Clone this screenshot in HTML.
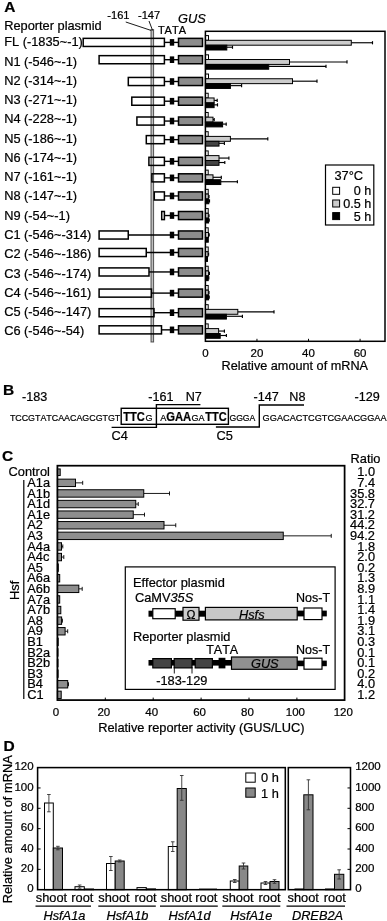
<!DOCTYPE html>
<html><head><meta charset="utf-8"><title>Figure</title>
<style>
html,body{margin:0;padding:0;background:#fff;}
svg{display:block;font-family:"Liberation Sans",sans-serif;fill:#000;}
text{white-space:pre;font-kerning:none;stroke:#000;stroke-width:0.22px;}
</style></head><body>
<svg width="387" height="921" viewBox="0 0 387 921">
<rect x="0" y="0" width="387" height="921" fill="#fff" stroke="none"/>
<text x="4.2" y="12.3" font-size="15.5" font-weight="bold">A</text>
<text x="4.2" y="30" font-size="12.8">Reporter plasmid</text>
<text x="4.2" y="46.3" font-size="12.8">FL (-1835~-1)</text>
<text x="4.2" y="65.57" font-size="12.8">N1 (-546~-1)</text>
<text x="4.2" y="84.84" font-size="12.8">N2 (-314~-1)</text>
<text x="4.2" y="104.11" font-size="12.8">N3 (-271~-1)</text>
<text x="4.2" y="123.38" font-size="12.8">N4 (-228~-1)</text>
<text x="4.2" y="142.65" font-size="12.8">N5 (-186~-1)</text>
<text x="4.2" y="161.92" font-size="12.8">N6 (-174~-1)</text>
<text x="4.2" y="181.19" font-size="12.8">N7 (-161~-1)</text>
<text x="4.2" y="200.46" font-size="12.8">N8 (-147~-1)</text>
<text x="4.2" y="219.73" font-size="12.8">N9 (-54~-1)</text>
<text x="4.2" y="239.0" font-size="12.8">C1 (-546~-314)</text>
<text x="4.2" y="258.27" font-size="12.8">C2 (-546~-186)</text>
<text x="4.2" y="277.54" font-size="12.8">C3 (-546~-174)</text>
<text x="4.2" y="296.81" font-size="12.8">C4 (-546~-161)</text>
<text x="4.2" y="316.08" font-size="12.8">C5 (-546~-147)</text>
<text x="4.2" y="335.35" font-size="12.8">C6 (-546~-54)</text>
<text x="107.3" y="19.2" font-size="11.1">-161</text>
<text x="138.0" y="19.2" font-size="11.1">-147</text>
<text x="157.9" y="34.3" font-size="11">TATA</text>
<text x="178" y="23.4" font-size="12.8" font-style="italic">GUS</text>
<line x1="125.75" y1="22.00" x2="151.30" y2="30.50" stroke="#000" stroke-width="0.9"/>
<line x1="149.00" y1="21.00" x2="152.60" y2="30.50" stroke="#000" stroke-width="0.9"/>
<line x1="164.40" y1="42.40" x2="178.50" y2="42.40" stroke="#000" stroke-width="1.4"/>
<rect x="169.80" y="39.10" width="4.40" height="6.60" fill="#000" stroke="none" stroke-width="0"/>
<rect x="83.20" y="38.35" width="81.20" height="8.10" fill="#fff" stroke="#000" stroke-width="1.5"/>
<rect x="178.50" y="38.35" width="24.00" height="8.10" fill="#8c8c8c" stroke="#000" stroke-width="1.5"/>
<line x1="164.40" y1="59.70" x2="178.50" y2="59.70" stroke="#000" stroke-width="1.4"/>
<rect x="169.80" y="56.40" width="4.40" height="6.60" fill="#000" stroke="none" stroke-width="0"/>
<rect x="99.10" y="55.65" width="65.30" height="8.10" fill="#fff" stroke="#000" stroke-width="1.5"/>
<rect x="178.50" y="55.65" width="24.00" height="8.10" fill="#8c8c8c" stroke="#000" stroke-width="1.5"/>
<line x1="164.40" y1="81.50" x2="178.50" y2="81.50" stroke="#000" stroke-width="1.4"/>
<rect x="169.80" y="78.20" width="4.40" height="6.60" fill="#000" stroke="none" stroke-width="0"/>
<rect x="128.30" y="77.45" width="36.10" height="8.10" fill="#fff" stroke="#000" stroke-width="1.5"/>
<rect x="178.50" y="77.45" width="24.00" height="8.10" fill="#8c8c8c" stroke="#000" stroke-width="1.5"/>
<line x1="164.40" y1="101.20" x2="178.50" y2="101.20" stroke="#000" stroke-width="1.4"/>
<rect x="169.80" y="97.90" width="4.40" height="6.60" fill="#000" stroke="none" stroke-width="0"/>
<rect x="131.80" y="97.15" width="32.60" height="8.10" fill="#fff" stroke="#000" stroke-width="1.5"/>
<rect x="178.50" y="97.15" width="24.00" height="8.10" fill="#8c8c8c" stroke="#000" stroke-width="1.5"/>
<line x1="164.40" y1="121.05" x2="178.50" y2="121.05" stroke="#000" stroke-width="1.4"/>
<rect x="169.80" y="117.75" width="4.40" height="6.60" fill="#000" stroke="none" stroke-width="0"/>
<rect x="136.90" y="117.00" width="27.50" height="8.10" fill="#fff" stroke="#000" stroke-width="1.5"/>
<rect x="178.50" y="117.00" width="24.00" height="8.10" fill="#8c8c8c" stroke="#000" stroke-width="1.5"/>
<line x1="164.40" y1="139.65" x2="178.50" y2="139.65" stroke="#000" stroke-width="1.4"/>
<rect x="169.80" y="136.35" width="4.40" height="6.60" fill="#000" stroke="none" stroke-width="0"/>
<rect x="146.30" y="135.60" width="18.10" height="8.10" fill="#fff" stroke="#000" stroke-width="1.5"/>
<rect x="178.50" y="135.60" width="24.00" height="8.10" fill="#8c8c8c" stroke="#000" stroke-width="1.5"/>
<line x1="164.40" y1="161.35" x2="178.50" y2="161.35" stroke="#000" stroke-width="1.4"/>
<rect x="169.80" y="158.05" width="4.40" height="6.60" fill="#000" stroke="none" stroke-width="0"/>
<rect x="148.90" y="157.30" width="15.50" height="8.10" fill="#fff" stroke="#000" stroke-width="1.5"/>
<rect x="178.50" y="157.30" width="24.00" height="8.10" fill="#8c8c8c" stroke="#000" stroke-width="1.5"/>
<line x1="164.40" y1="177.85" x2="178.50" y2="177.85" stroke="#000" stroke-width="1.4"/>
<rect x="169.80" y="174.55" width="4.40" height="6.60" fill="#000" stroke="none" stroke-width="0"/>
<rect x="151.90" y="173.80" width="12.50" height="8.10" fill="#fff" stroke="#000" stroke-width="1.5"/>
<rect x="178.50" y="173.80" width="24.00" height="8.10" fill="#8c8c8c" stroke="#000" stroke-width="1.5"/>
<line x1="164.40" y1="195.95" x2="178.50" y2="195.95" stroke="#000" stroke-width="1.4"/>
<rect x="169.80" y="192.65" width="4.40" height="6.60" fill="#000" stroke="none" stroke-width="0"/>
<rect x="154.30" y="191.90" width="10.10" height="8.10" fill="#fff" stroke="#000" stroke-width="1.5"/>
<rect x="178.50" y="191.90" width="24.00" height="8.10" fill="#8c8c8c" stroke="#000" stroke-width="1.5"/>
<line x1="164.40" y1="215.55" x2="178.50" y2="215.55" stroke="#000" stroke-width="1.4"/>
<rect x="169.80" y="212.25" width="4.40" height="6.60" fill="#000" stroke="none" stroke-width="0"/>
<rect x="161.70" y="211.50" width="2.70" height="8.10" fill="#fff" stroke="#000" stroke-width="1.5"/>
<rect x="178.50" y="211.50" width="24.00" height="8.10" fill="#8c8c8c" stroke="#000" stroke-width="1.5"/>
<line x1="128.25" y1="235.00" x2="178.50" y2="235.00" stroke="#000" stroke-width="1.4"/>
<rect x="169.80" y="231.70" width="4.40" height="6.60" fill="#000" stroke="none" stroke-width="0"/>
<rect x="99.10" y="230.95" width="29.15" height="8.10" fill="#fff" stroke="#000" stroke-width="1.5"/>
<rect x="178.50" y="230.95" width="24.00" height="8.10" fill="#8c8c8c" stroke="#000" stroke-width="1.5"/>
<line x1="146.25" y1="252.50" x2="178.50" y2="252.50" stroke="#000" stroke-width="1.4"/>
<rect x="169.80" y="249.20" width="4.40" height="6.60" fill="#000" stroke="none" stroke-width="0"/>
<rect x="99.10" y="248.45" width="47.15" height="8.10" fill="#fff" stroke="#000" stroke-width="1.5"/>
<rect x="178.50" y="248.45" width="24.00" height="8.10" fill="#8c8c8c" stroke="#000" stroke-width="1.5"/>
<line x1="149.00" y1="271.95" x2="178.50" y2="271.95" stroke="#000" stroke-width="1.4"/>
<rect x="169.80" y="268.65" width="4.40" height="6.60" fill="#000" stroke="none" stroke-width="0"/>
<rect x="99.10" y="267.90" width="49.90" height="8.10" fill="#fff" stroke="#000" stroke-width="1.5"/>
<rect x="178.50" y="267.90" width="24.00" height="8.10" fill="#8c8c8c" stroke="#000" stroke-width="1.5"/>
<line x1="151.50" y1="293.10" x2="178.50" y2="293.10" stroke="#000" stroke-width="1.4"/>
<rect x="169.80" y="289.80" width="4.40" height="6.60" fill="#000" stroke="none" stroke-width="0"/>
<rect x="99.10" y="289.05" width="52.40" height="8.10" fill="#fff" stroke="#000" stroke-width="1.5"/>
<rect x="178.50" y="289.05" width="24.00" height="8.10" fill="#8c8c8c" stroke="#000" stroke-width="1.5"/>
<line x1="154.00" y1="312.70" x2="178.50" y2="312.70" stroke="#000" stroke-width="1.4"/>
<rect x="169.80" y="309.40" width="4.40" height="6.60" fill="#000" stroke="none" stroke-width="0"/>
<rect x="99.10" y="308.65" width="54.90" height="8.10" fill="#fff" stroke="#000" stroke-width="1.5"/>
<rect x="178.50" y="308.65" width="24.00" height="8.10" fill="#8c8c8c" stroke="#000" stroke-width="1.5"/>
<line x1="161.50" y1="329.85" x2="178.50" y2="329.85" stroke="#000" stroke-width="1.4"/>
<rect x="169.80" y="326.55" width="4.40" height="6.60" fill="#000" stroke="none" stroke-width="0"/>
<rect x="99.10" y="325.80" width="62.40" height="8.10" fill="#fff" stroke="#000" stroke-width="1.5"/>
<rect x="178.50" y="325.80" width="24.00" height="8.10" fill="#8c8c8c" stroke="#000" stroke-width="1.5"/>
<rect x="151.00" y="29.60" width="2.60" height="312.40" fill="#000" stroke="#000" stroke-width="1.0" fill-opacity="0.25" stroke-opacity="0.64"/>
<line x1="351.30" y1="42.75" x2="372.50" y2="42.75" stroke="#000" stroke-width="1.15"/>
<line x1="372.50" y1="41.15" x2="372.50" y2="44.35" stroke="#000" stroke-width="1.15"/>
<line x1="226.80" y1="47.20" x2="232.50" y2="47.20" stroke="#000" stroke-width="1.15"/>
<line x1="232.50" y1="45.60" x2="232.50" y2="48.80" stroke="#000" stroke-width="1.15"/>
<rect x="205.40" y="35.60" width="3.10" height="4.70" fill="#fff" stroke="#000" stroke-width="1.0"/>
<rect x="205.40" y="40.30" width="145.90" height="4.90" fill="#ccc" stroke="#000" stroke-width="1.0"/>
<rect x="205.40" y="45.20" width="21.40" height="4.80" fill="#000" stroke="#000" stroke-width="1.0"/>
<line x1="289.50" y1="61.97" x2="347.00" y2="61.97" stroke="#000" stroke-width="1.15"/>
<line x1="347.00" y1="60.37" x2="347.00" y2="63.57" stroke="#000" stroke-width="1.15"/>
<line x1="268.70" y1="66.42" x2="326.00" y2="66.42" stroke="#000" stroke-width="1.15"/>
<line x1="326.00" y1="64.82" x2="326.00" y2="68.02" stroke="#000" stroke-width="1.15"/>
<rect x="205.40" y="54.82" width="3.10" height="4.70" fill="#fff" stroke="#000" stroke-width="1.0"/>
<rect x="205.40" y="59.52" width="84.10" height="4.90" fill="#ccc" stroke="#000" stroke-width="1.0"/>
<rect x="205.40" y="64.42" width="63.30" height="4.80" fill="#000" stroke="#000" stroke-width="1.0"/>
<line x1="292.50" y1="81.19" x2="317.00" y2="81.19" stroke="#000" stroke-width="1.15"/>
<line x1="317.00" y1="79.59" x2="317.00" y2="82.79" stroke="#000" stroke-width="1.15"/>
<line x1="230.40" y1="85.64" x2="241.60" y2="85.64" stroke="#000" stroke-width="1.15"/>
<line x1="241.60" y1="84.04" x2="241.60" y2="87.24" stroke="#000" stroke-width="1.15"/>
<rect x="205.40" y="74.04" width="3.10" height="4.70" fill="#fff" stroke="#000" stroke-width="1.0"/>
<rect x="205.40" y="78.74" width="87.10" height="4.90" fill="#ccc" stroke="#000" stroke-width="1.0"/>
<rect x="205.40" y="83.64" width="25.00" height="4.80" fill="#000" stroke="#000" stroke-width="1.0"/>
<line x1="214.10" y1="100.41" x2="217.20" y2="100.41" stroke="#000" stroke-width="1.15"/>
<line x1="217.20" y1="98.81" x2="217.20" y2="102.01" stroke="#000" stroke-width="1.15"/>
<line x1="214.10" y1="104.86" x2="217.50" y2="104.86" stroke="#000" stroke-width="1.15"/>
<line x1="217.50" y1="103.26" x2="217.50" y2="106.46" stroke="#000" stroke-width="1.15"/>
<rect x="205.40" y="93.26" width="2.80" height="4.70" fill="#fff" stroke="#000" stroke-width="1.0"/>
<rect x="205.40" y="97.96" width="8.70" height="4.90" fill="#ccc" stroke="#000" stroke-width="1.0"/>
<rect x="205.40" y="102.86" width="8.70" height="4.80" fill="#000" stroke="#000" stroke-width="1.0"/>
<line x1="213.00" y1="119.63" x2="214.20" y2="119.63" stroke="#000" stroke-width="1.15"/>
<line x1="214.20" y1="118.03" x2="214.20" y2="121.23" stroke="#000" stroke-width="1.15"/>
<line x1="222.60" y1="124.08" x2="226.20" y2="124.08" stroke="#000" stroke-width="1.15"/>
<line x1="226.20" y1="122.48" x2="226.20" y2="125.68" stroke="#000" stroke-width="1.15"/>
<rect x="205.40" y="112.48" width="2.80" height="4.70" fill="#fff" stroke="#000" stroke-width="1.0"/>
<rect x="205.40" y="117.18" width="7.60" height="4.90" fill="#ccc" stroke="#000" stroke-width="1.0"/>
<rect x="205.40" y="122.08" width="17.20" height="4.80" fill="#000" stroke="#000" stroke-width="1.0"/>
<line x1="230.40" y1="138.85" x2="267.80" y2="138.85" stroke="#000" stroke-width="1.15"/>
<line x1="267.80" y1="137.25" x2="267.80" y2="140.45" stroke="#000" stroke-width="1.15"/>
<line x1="219.00" y1="143.30" x2="224.40" y2="143.30" stroke="#000" stroke-width="1.15"/>
<line x1="224.40" y1="141.70" x2="224.40" y2="144.90" stroke="#000" stroke-width="1.15"/>
<rect x="205.40" y="131.70" width="2.80" height="4.70" fill="#fff" stroke="#000" stroke-width="1.0"/>
<rect x="205.40" y="136.40" width="25.00" height="4.90" fill="#ccc" stroke="#000" stroke-width="1.0"/>
<rect x="205.40" y="141.30" width="13.60" height="4.80" fill="#444" stroke="#000" stroke-width="1.0"/>
<line x1="219.00" y1="158.07" x2="228.90" y2="158.07" stroke="#000" stroke-width="1.15"/>
<line x1="228.90" y1="156.47" x2="228.90" y2="159.67" stroke="#000" stroke-width="1.15"/>
<line x1="219.00" y1="162.52" x2="224.80" y2="162.52" stroke="#000" stroke-width="1.15"/>
<line x1="224.80" y1="160.92" x2="224.80" y2="164.12" stroke="#000" stroke-width="1.15"/>
<rect x="205.40" y="150.92" width="2.80" height="4.70" fill="#fff" stroke="#000" stroke-width="1.0"/>
<rect x="205.40" y="155.62" width="13.60" height="4.90" fill="#ccc" stroke="#000" stroke-width="1.0"/>
<rect x="205.40" y="160.52" width="13.60" height="4.80" fill="#444" stroke="#000" stroke-width="1.0"/>
<line x1="213.00" y1="177.29" x2="221.30" y2="177.29" stroke="#000" stroke-width="1.15"/>
<line x1="221.30" y1="175.69" x2="221.30" y2="178.89" stroke="#000" stroke-width="1.15"/>
<line x1="220.80" y1="181.74" x2="237.40" y2="181.74" stroke="#000" stroke-width="1.15"/>
<line x1="237.40" y1="180.14" x2="237.40" y2="183.34" stroke="#000" stroke-width="1.15"/>
<rect x="205.40" y="170.14" width="2.80" height="4.70" fill="#fff" stroke="#000" stroke-width="1.0"/>
<rect x="205.40" y="174.84" width="7.60" height="4.90" fill="#ccc" stroke="#000" stroke-width="1.0"/>
<rect x="205.40" y="179.74" width="15.40" height="4.80" fill="#000" stroke="#000" stroke-width="1.0"/>
<line x1="208.30" y1="196.51" x2="209.00" y2="196.51" stroke="#000" stroke-width="1.15"/>
<line x1="209.00" y1="194.91" x2="209.00" y2="198.11" stroke="#000" stroke-width="1.15"/>
<line x1="208.80" y1="200.96" x2="209.50" y2="200.96" stroke="#000" stroke-width="1.15"/>
<line x1="209.50" y1="199.36" x2="209.50" y2="202.56" stroke="#000" stroke-width="1.15"/>
<rect x="205.40" y="189.36" width="2.80" height="4.70" fill="#fff" stroke="#000" stroke-width="1.0"/>
<rect x="205.40" y="194.06" width="2.90" height="4.90" fill="#ccc" stroke="#000" stroke-width="1.0"/>
<rect x="205.40" y="198.96" width="3.40" height="4.80" fill="#000" stroke="#000" stroke-width="1.0"/>
<line x1="208.30" y1="215.73" x2="209.00" y2="215.73" stroke="#000" stroke-width="1.15"/>
<line x1="209.00" y1="214.13" x2="209.00" y2="217.33" stroke="#000" stroke-width="1.15"/>
<line x1="208.60" y1="220.18" x2="209.20" y2="220.18" stroke="#000" stroke-width="1.15"/>
<line x1="209.20" y1="218.58" x2="209.20" y2="221.78" stroke="#000" stroke-width="1.15"/>
<rect x="205.40" y="208.58" width="2.80" height="4.70" fill="#fff" stroke="#000" stroke-width="1.0"/>
<rect x="205.40" y="213.28" width="2.90" height="4.90" fill="#ccc" stroke="#000" stroke-width="1.0"/>
<rect x="205.40" y="218.18" width="3.20" height="4.80" fill="#000" stroke="#000" stroke-width="1.0"/>
<line x1="208.50" y1="234.95" x2="209.20" y2="234.95" stroke="#000" stroke-width="1.15"/>
<line x1="209.20" y1="233.35" x2="209.20" y2="236.55" stroke="#000" stroke-width="1.15"/>
<rect x="205.40" y="227.80" width="2.80" height="4.70" fill="#fff" stroke="#000" stroke-width="1.0"/>
<rect x="205.40" y="232.50" width="3.10" height="4.90" fill="#ccc" stroke="#000" stroke-width="1.0"/>
<rect x="205.40" y="237.40" width="2.90" height="4.80" fill="#000" stroke="#000" stroke-width="1.0"/>
<line x1="208.00" y1="254.17" x2="208.60" y2="254.17" stroke="#000" stroke-width="1.15"/>
<line x1="208.60" y1="252.57" x2="208.60" y2="255.77" stroke="#000" stroke-width="1.15"/>
<rect x="205.40" y="247.02" width="2.80" height="4.70" fill="#fff" stroke="#000" stroke-width="1.0"/>
<rect x="205.40" y="251.72" width="2.60" height="4.90" fill="#ccc" stroke="#000" stroke-width="1.0"/>
<rect x="205.40" y="256.62" width="2.10" height="4.80" fill="#000" stroke="#000" stroke-width="1.0"/>
<line x1="208.60" y1="273.39" x2="209.40" y2="273.39" stroke="#000" stroke-width="1.15"/>
<line x1="209.40" y1="271.79" x2="209.40" y2="274.99" stroke="#000" stroke-width="1.15"/>
<line x1="208.20" y1="277.84" x2="208.80" y2="277.84" stroke="#000" stroke-width="1.15"/>
<line x1="208.80" y1="276.24" x2="208.80" y2="279.44" stroke="#000" stroke-width="1.15"/>
<rect x="205.40" y="266.24" width="2.80" height="4.70" fill="#fff" stroke="#000" stroke-width="1.0"/>
<rect x="205.40" y="270.94" width="3.20" height="4.90" fill="#ccc" stroke="#000" stroke-width="1.0"/>
<rect x="205.40" y="275.84" width="2.80" height="4.80" fill="#000" stroke="#000" stroke-width="1.0"/>
<line x1="208.30" y1="292.61" x2="209.00" y2="292.61" stroke="#000" stroke-width="1.15"/>
<line x1="209.00" y1="291.01" x2="209.00" y2="294.21" stroke="#000" stroke-width="1.15"/>
<line x1="208.60" y1="297.06" x2="209.20" y2="297.06" stroke="#000" stroke-width="1.15"/>
<line x1="209.20" y1="295.46" x2="209.20" y2="298.66" stroke="#000" stroke-width="1.15"/>
<rect x="205.40" y="285.46" width="2.80" height="4.70" fill="#fff" stroke="#000" stroke-width="1.0"/>
<rect x="205.40" y="290.16" width="2.90" height="4.90" fill="#ccc" stroke="#000" stroke-width="1.0"/>
<rect x="205.40" y="295.06" width="3.20" height="4.80" fill="#000" stroke="#000" stroke-width="1.0"/>
<line x1="237.80" y1="311.83" x2="274.00" y2="311.83" stroke="#000" stroke-width="1.15"/>
<line x1="274.00" y1="310.23" x2="274.00" y2="313.43" stroke="#000" stroke-width="1.15"/>
<line x1="226.40" y1="316.28" x2="242.40" y2="316.28" stroke="#000" stroke-width="1.15"/>
<line x1="242.40" y1="314.68" x2="242.40" y2="317.88" stroke="#000" stroke-width="1.15"/>
<rect x="205.40" y="304.68" width="2.80" height="4.70" fill="#fff" stroke="#000" stroke-width="1.0"/>
<rect x="205.40" y="309.38" width="32.40" height="4.90" fill="#ccc" stroke="#000" stroke-width="1.0"/>
<rect x="205.40" y="314.28" width="21.00" height="4.80" fill="#000" stroke="#000" stroke-width="1.0"/>
<line x1="218.60" y1="331.05" x2="224.40" y2="331.05" stroke="#000" stroke-width="1.15"/>
<line x1="224.40" y1="329.45" x2="224.40" y2="332.65" stroke="#000" stroke-width="1.15"/>
<line x1="220.20" y1="335.50" x2="226.40" y2="335.50" stroke="#000" stroke-width="1.15"/>
<line x1="226.40" y1="333.90" x2="226.40" y2="337.10" stroke="#000" stroke-width="1.15"/>
<rect x="205.40" y="323.90" width="2.80" height="4.70" fill="#fff" stroke="#000" stroke-width="1.0"/>
<rect x="205.40" y="328.60" width="13.20" height="4.90" fill="#ccc" stroke="#000" stroke-width="1.0"/>
<rect x="205.40" y="333.50" width="14.80" height="4.80" fill="#000" stroke="#000" stroke-width="1.0"/>
<rect x="205.40" y="31.30" width="179.60" height="310.00" fill="none" stroke="#000" stroke-width="1.5"/>
<line x1="256.96" y1="341.30" x2="256.96" y2="338.80" stroke="#000" stroke-width="1.0"/>
<line x1="308.52" y1="341.30" x2="308.52" y2="338.80" stroke="#000" stroke-width="1.0"/>
<line x1="360.08" y1="341.30" x2="360.08" y2="338.80" stroke="#000" stroke-width="1.0"/>
<text x="205.4" y="356.7" font-size="11.5" text-anchor="middle">0</text>
<text x="256.96" y="356.7" font-size="11.5" text-anchor="middle">20</text>
<text x="308.52" y="356.7" font-size="11.5" text-anchor="middle">40</text>
<text x="360.08" y="356.7" font-size="11.5" text-anchor="middle">60</text>
<text x="221.5" y="370" font-size="12.8" textLength="146.5" lengthAdjust="spacingAndGlyphs">Relative amount of mRNA</text>
<rect x="325.50" y="165.00" width="48.30" height="60.00" fill="#fff" stroke="#000" stroke-width="1.2"/>
<text x="348.8" y="179.5" font-size="12.8" text-anchor="middle">37°C</text>
<rect x="332.70" y="187.30" width="6.90" height="7.00" fill="#fff" stroke="#000" stroke-width="1.0"/>
<text x="371.3" y="194.8" font-size="12.6" text-anchor="end">0 h</text>
<rect x="332.70" y="200.00" width="6.90" height="7.00" fill="#ccc" stroke="#000" stroke-width="1.0"/>
<text x="371.3" y="208.4" font-size="12.6" text-anchor="end">0.5 h</text>
<rect x="332.70" y="212.60" width="6.90" height="7.00" fill="#000" stroke="#000" stroke-width="1.0"/>
<text x="371.3" y="220.6" font-size="12.6" text-anchor="end">5 h</text>
<text x="3" y="395" font-size="15.5" font-weight="bold">B</text>
<text x="22" y="401.2" font-size="12.6">-183</text>
<text x="148.3" y="401.2" font-size="12.6">-161</text>
<text x="185.7" y="401.2" font-size="12.6">N7</text>
<text x="253.6" y="401.2" font-size="12.6">-147</text>
<text x="289.3" y="401.2" font-size="12.6">N8</text>
<text x="354.5" y="401.2" font-size="12.6">-129</text>
<text x="9.9" y="420.7" font-size="9.9" textLength="110.4" lengthAdjust="spacingAndGlyphs">TCCGTATCAACAGCGTGT</text>
<text x="123.2" y="420.7" font-size="12.5" font-weight="bold" textLength="21.6" lengthAdjust="spacingAndGlyphs">TTC</text>
<text x="145.6" y="420.7" font-size="9.9" textLength="7.0" lengthAdjust="spacingAndGlyphs">G</text>
<text x="160.2" y="420.7" font-size="9.9" textLength="6.1" lengthAdjust="spacingAndGlyphs">A</text>
<text x="166.2" y="420.7" font-size="12.5" font-weight="bold" textLength="25.0" lengthAdjust="spacingAndGlyphs">GAA</text>
<text x="191.6" y="420.7" font-size="9.9" textLength="13.0" lengthAdjust="spacingAndGlyphs">GA</text>
<text x="205.2" y="420.7" font-size="12.5" font-weight="bold" textLength="21.4" lengthAdjust="spacingAndGlyphs">TTC</text>
<text x="229.4" y="420.7" font-size="9.9" textLength="26.0" lengthAdjust="spacingAndGlyphs">GGGA</text>
<text x="262.6" y="420.7" font-size="9.9" textLength="124.0" lengthAdjust="spacingAndGlyphs">GGACACTCGTCGAACGGAA</text>
<rect x="121.20" y="408.30" width="107.20" height="16.00" fill="none" stroke="#000" stroke-width="1.4"/>
<polyline points="111.60,427.40 156.40,427.40 156.40,404.60 200.40,404.60" fill="none" stroke="#000" stroke-width="1.4"/>
<polyline points="215.90,427.00 259.30,427.00 259.30,405.00 304.00,405.00" fill="none" stroke="#000" stroke-width="1.4"/>
<text x="111.5" y="439.6" font-size="12.8">C4</text>
<text x="216.6" y="439.6" font-size="12.8">C5</text>
<text x="2" y="461" font-size="15.5" font-weight="bold">C</text>
<rect x="57.40" y="468.95" width="2.80" height="6.60" fill="#8e8e8e" stroke="#000" stroke-width="1.0"/>
<text x="8.6" y="476.35" font-size="12.8">Control</text>
<text x="375" y="476.35" font-size="12.8" text-anchor="end">1.0</text>
<line x1="75.50" y1="482.85" x2="82.70" y2="482.85" stroke="#000" stroke-width="0.9"/>
<line x1="82.70" y1="480.85" x2="82.70" y2="484.85" stroke="#000" stroke-width="0.9"/>
<rect x="57.40" y="479.15" width="18.10" height="7.40" fill="#8e8e8e" stroke="#000" stroke-width="1.0"/>
<text x="27.3" y="486.95" font-size="12.8">A1a</text>
<text x="375" y="486.95" font-size="12.8" text-anchor="end">7.4</text>
<line x1="143.75" y1="493.45" x2="169.50" y2="493.45" stroke="#000" stroke-width="0.9"/>
<line x1="169.50" y1="491.45" x2="169.50" y2="495.45" stroke="#000" stroke-width="0.9"/>
<rect x="57.40" y="489.75" width="86.35" height="7.40" fill="#8e8e8e" stroke="#000" stroke-width="1.0"/>
<text x="27.3" y="497.55" font-size="12.8">A1b</text>
<text x="375" y="497.55" font-size="12.8" text-anchor="end">35.8</text>
<line x1="135.75" y1="504.05" x2="138.25" y2="504.05" stroke="#000" stroke-width="0.9"/>
<line x1="138.25" y1="502.05" x2="138.25" y2="506.05" stroke="#000" stroke-width="0.9"/>
<rect x="57.40" y="500.35" width="78.35" height="7.40" fill="#8e8e8e" stroke="#000" stroke-width="1.0"/>
<text x="27.3" y="508.15" font-size="12.8">A1d</text>
<text x="375" y="508.15" font-size="12.8" text-anchor="end">32.7</text>
<line x1="133.25" y1="514.65" x2="144.50" y2="514.65" stroke="#000" stroke-width="0.9"/>
<line x1="144.50" y1="512.65" x2="144.50" y2="516.65" stroke="#000" stroke-width="0.9"/>
<rect x="57.40" y="510.95" width="75.85" height="7.40" fill="#8e8e8e" stroke="#000" stroke-width="1.0"/>
<text x="27.3" y="518.75" font-size="12.8">A1e</text>
<text x="375" y="518.75" font-size="12.8" text-anchor="end">31.2</text>
<line x1="164.00" y1="525.25" x2="175.75" y2="525.25" stroke="#000" stroke-width="0.9"/>
<line x1="175.75" y1="523.25" x2="175.75" y2="527.25" stroke="#000" stroke-width="0.9"/>
<rect x="57.40" y="521.55" width="106.60" height="7.40" fill="#8e8e8e" stroke="#000" stroke-width="1.0"/>
<text x="27.3" y="529.35" font-size="12.8">A2</text>
<text x="375" y="529.35" font-size="12.8" text-anchor="end">44.2</text>
<line x1="283.25" y1="535.85" x2="331.25" y2="535.85" stroke="#000" stroke-width="0.9"/>
<line x1="331.25" y1="533.85" x2="331.25" y2="537.85" stroke="#000" stroke-width="0.9"/>
<rect x="57.40" y="532.15" width="225.85" height="7.40" fill="#8e8e8e" stroke="#000" stroke-width="1.0"/>
<text x="27.3" y="539.95" font-size="12.8">A3</text>
<text x="375" y="539.95" font-size="12.8" text-anchor="end">94.2</text>
<line x1="61.50" y1="546.45" x2="62.80" y2="546.45" stroke="#000" stroke-width="0.9"/>
<line x1="62.80" y1="544.45" x2="62.80" y2="548.45" stroke="#000" stroke-width="0.9"/>
<rect x="57.40" y="542.75" width="4.10" height="7.40" fill="#8e8e8e" stroke="#000" stroke-width="1.0"/>
<text x="27.3" y="550.55" font-size="12.8">A4a</text>
<text x="375" y="550.55" font-size="12.8" text-anchor="end">1.8</text>
<line x1="61.50" y1="557.05" x2="63.80" y2="557.05" stroke="#000" stroke-width="0.9"/>
<line x1="63.80" y1="555.05" x2="63.80" y2="559.05" stroke="#000" stroke-width="0.9"/>
<rect x="57.40" y="553.35" width="4.10" height="7.40" fill="#8e8e8e" stroke="#000" stroke-width="1.0"/>
<text x="27.3" y="561.15" font-size="12.8">A4c</text>
<text x="375" y="561.15" font-size="12.8" text-anchor="end">2.0</text>
<rect x="57.40" y="563.95" width="0.90" height="7.40" fill="#8e8e8e" stroke="#000" stroke-width="1.0"/>
<text x="27.3" y="571.75" font-size="12.8">A5</text>
<text x="375" y="571.75" font-size="12.8" text-anchor="end">0.2</text>
<rect x="57.40" y="574.55" width="2.30" height="7.40" fill="#8e8e8e" stroke="#000" stroke-width="1.0"/>
<text x="27.3" y="582.35" font-size="12.8">A6a</text>
<text x="375" y="582.35" font-size="12.8" text-anchor="end">1.3</text>
<line x1="78.80" y1="588.85" x2="82.20" y2="588.85" stroke="#000" stroke-width="0.9"/>
<line x1="82.20" y1="586.85" x2="82.20" y2="590.85" stroke="#000" stroke-width="0.9"/>
<rect x="57.40" y="585.15" width="21.40" height="7.40" fill="#8e8e8e" stroke="#000" stroke-width="1.0"/>
<text x="27.3" y="592.95" font-size="12.8">A6b</text>
<text x="375" y="592.95" font-size="12.8" text-anchor="end">8.9</text>
<rect x="57.40" y="595.75" width="2.30" height="7.40" fill="#8e8e8e" stroke="#000" stroke-width="1.0"/>
<text x="27.3" y="603.55" font-size="12.8">A7a</text>
<text x="375" y="603.55" font-size="12.8" text-anchor="end">1.1</text>
<rect x="57.40" y="606.35" width="3.40" height="7.40" fill="#8e8e8e" stroke="#000" stroke-width="1.0"/>
<text x="27.3" y="614.15" font-size="12.8">A7b</text>
<text x="375" y="614.15" font-size="12.8" text-anchor="end">1.4</text>
<line x1="61.60" y1="620.65" x2="62.40" y2="620.65" stroke="#000" stroke-width="0.9"/>
<line x1="62.40" y1="618.65" x2="62.40" y2="622.65" stroke="#000" stroke-width="0.9"/>
<rect x="57.40" y="616.95" width="4.20" height="7.40" fill="#8e8e8e" stroke="#000" stroke-width="1.0"/>
<text x="27.3" y="624.75" font-size="12.8">A8</text>
<text x="375" y="624.75" font-size="12.8" text-anchor="end">1.9</text>
<line x1="65.10" y1="631.25" x2="67.70" y2="631.25" stroke="#000" stroke-width="0.9"/>
<line x1="67.70" y1="629.25" x2="67.70" y2="633.25" stroke="#000" stroke-width="0.9"/>
<rect x="57.40" y="627.55" width="7.70" height="7.40" fill="#8e8e8e" stroke="#000" stroke-width="1.0"/>
<text x="27.3" y="635.35" font-size="12.8">A9</text>
<text x="375" y="635.35" font-size="12.8" text-anchor="end">3.1</text>
<rect x="57.40" y="638.15" width="0.80" height="7.40" fill="#8e8e8e" stroke="#000" stroke-width="1.0"/>
<text x="27.3" y="645.95" font-size="12.8">B1</text>
<text x="375" y="645.95" font-size="12.8" text-anchor="end">0.3</text>
<rect x="57.40" y="648.75" width="0.60" height="7.40" fill="#8e8e8e" stroke="#000" stroke-width="1.0"/>
<text x="27.3" y="656.55" font-size="12.8">B2a</text>
<text x="375" y="656.55" font-size="12.8" text-anchor="end">0.1</text>
<rect x="57.40" y="659.35" width="0.60" height="7.40" fill="#8e8e8e" stroke="#000" stroke-width="1.0"/>
<text x="27.3" y="667.15" font-size="12.8">B2b</text>
<text x="375" y="667.15" font-size="12.8" text-anchor="end">0.1</text>
<rect x="57.40" y="669.95" width="0.70" height="7.40" fill="#8e8e8e" stroke="#000" stroke-width="1.0"/>
<text x="27.3" y="677.75" font-size="12.8">B3</text>
<text x="375" y="677.75" font-size="12.8" text-anchor="end">0.2</text>
<line x1="67.70" y1="684.25" x2="68.50" y2="684.25" stroke="#000" stroke-width="0.9"/>
<line x1="68.50" y1="682.25" x2="68.50" y2="686.25" stroke="#000" stroke-width="0.9"/>
<rect x="57.40" y="680.55" width="10.30" height="7.40" fill="#8e8e8e" stroke="#000" stroke-width="1.0"/>
<text x="27.3" y="688.35" font-size="12.8">B4</text>
<text x="375" y="688.35" font-size="12.8" text-anchor="end">4.0</text>
<rect x="57.40" y="691.15" width="3.80" height="7.40" fill="#8e8e8e" stroke="#000" stroke-width="1.0"/>
<text x="27.3" y="698.95" font-size="12.8">C1</text>
<text x="375" y="698.95" font-size="12.8" text-anchor="end">1.2</text>
<rect x="57.40" y="465.70" width="287.20" height="234.40" fill="none" stroke="#000" stroke-width="1.75"/>
<line x1="23.80" y1="480.00" x2="23.80" y2="698.90" stroke="#000" stroke-width="1.2"/>
<text transform="translate(19.2,590.3) rotate(-90)" font-size="12.8" text-anchor="middle">Hsf</text>
<text x="350.6" y="463" font-size="12.8">Ratio</text>
<line x1="105.30" y1="700.10" x2="105.30" y2="697.60" stroke="#000" stroke-width="1.0"/>
<line x1="153.20" y1="700.10" x2="153.20" y2="697.60" stroke="#000" stroke-width="1.0"/>
<line x1="201.10" y1="700.10" x2="201.10" y2="697.60" stroke="#000" stroke-width="1.0"/>
<line x1="249.00" y1="700.10" x2="249.00" y2="697.60" stroke="#000" stroke-width="1.0"/>
<line x1="296.90" y1="700.10" x2="296.90" y2="697.60" stroke="#000" stroke-width="1.0"/>
<text x="55.9" y="716.3" font-size="11.5" text-anchor="middle">0</text>
<text x="103.8" y="716.3" font-size="11.5" text-anchor="middle">20</text>
<text x="151.7" y="716.3" font-size="11.5" text-anchor="middle">40</text>
<text x="199.6" y="716.3" font-size="11.5" text-anchor="middle">60</text>
<text x="247.5" y="716.3" font-size="11.5" text-anchor="middle">80</text>
<text x="295.4" y="716.3" font-size="11.5" text-anchor="middle">100</text>
<text x="343.3" y="716.3" font-size="11.5" text-anchor="middle">120</text>
<text x="98.2" y="732.2" font-size="12.8">Relative reporter activity (GUS/LUC)</text>
<rect x="125.30" y="566.90" width="209.80" height="122.50" fill="#fff" stroke="#000" stroke-width="1.2"/>
<text x="133" y="587.4" font-size="12.8">Effector plasmid</text>
<text x="134.9" y="602" font-size="12.8">CaMV<tspan font-style="italic">35S</tspan></text>
<text x="296" y="602.2" font-size="12.5">Nos-T</text>
<rect x="148.50" y="610.70" width="57.50" height="6.00" fill="#000" stroke="none" stroke-width="0"/>
<rect x="152.80" y="608.70" width="22.40" height="10.00" fill="#fff" stroke="#000" stroke-width="1.2"/>
<rect x="183.00" y="607.40" width="16.00" height="12.80" fill="#ccc" stroke="#000" stroke-width="1.2"/>
<text x="191" y="618.6" font-size="12" text-anchor="middle">Ω</text>
<rect x="297.00" y="610.60" width="29.80" height="5.80" fill="#000" stroke="none" stroke-width="0"/>
<rect x="205.40" y="607.40" width="91.80" height="12.50" fill="#c8c8c8" stroke="#000" stroke-width="1.2"/>
<text x="251.8" y="618.6" font-size="12.8" text-anchor="middle" font-style="italic">Hsfs</text>
<rect x="304.00" y="608.00" width="18.00" height="11.60" fill="#fff" stroke="#000" stroke-width="1.2"/>
<text x="133" y="640.7" font-size="12.8">Reporter plasmid</text>
<text x="206.2" y="653.6" font-size="12.5">TATA</text>
<text x="296" y="653.6" font-size="12.5">Nos-T</text>
<rect x="148.50" y="660.00" width="83.50" height="5.60" fill="#000" stroke="none" stroke-width="0"/>
<rect x="152.80" y="658.60" width="18.60" height="9.30" fill="#444" stroke="#000" stroke-width="1.2"/>
<rect x="174.20" y="658.60" width="17.80" height="9.30" fill="#444" stroke="#000" stroke-width="1.2"/>
<rect x="195.20" y="658.60" width="17.20" height="9.30" fill="#444" stroke="#000" stroke-width="1.2"/>
<rect x="218.60" y="657.80" width="6.80" height="10.60" fill="#000" stroke="none" stroke-width="0"/>
<rect x="297.00" y="660.60" width="29.80" height="5.60" fill="#000" stroke="none" stroke-width="0"/>
<rect x="231.50" y="657.00" width="65.70" height="12.30" fill="#909090" stroke="#000" stroke-width="1.2"/>
<text x="264.8" y="667.8" font-size="12.8" text-anchor="middle" font-style="italic">GUS</text>
<rect x="304.00" y="658.20" width="18.00" height="11.00" fill="#fff" stroke="#000" stroke-width="1.2"/>
<line x1="174.30" y1="667.00" x2="174.30" y2="673.50" stroke="#000" stroke-width="0.9"/>
<line x1="192.00" y1="667.00" x2="192.00" y2="673.50" stroke="#000" stroke-width="0.9"/>
<text x="156.2" y="685.0" font-size="12.8">-183-129</text>
<text x="3.5" y="751.3" font-size="15.5" font-weight="bold">D</text>
<text transform="translate(11.9,829.3) rotate(-90)" font-size="12.8" text-anchor="middle">Relative amount of mRNA</text>
<text x="33.6" y="892.3" font-size="11.5" text-anchor="end">0</text>
<text x="33.6" y="871.95" font-size="11.5" text-anchor="end">20</text>
<text x="33.6" y="851.6" font-size="11.5" text-anchor="end">40</text>
<text x="33.6" y="831.25" font-size="11.5" text-anchor="end">60</text>
<text x="33.6" y="810.9" font-size="11.5" text-anchor="end">80</text>
<text x="33.6" y="790.55" font-size="11.5" text-anchor="end">100</text>
<text x="33.6" y="770.2" font-size="11.5" text-anchor="end">120</text>
<line x1="37.60" y1="869.35" x2="40.60" y2="869.35" stroke="#000" stroke-width="1.0"/>
<line x1="37.60" y1="849.00" x2="40.60" y2="849.00" stroke="#000" stroke-width="1.0"/>
<line x1="37.60" y1="828.65" x2="40.60" y2="828.65" stroke="#000" stroke-width="1.0"/>
<line x1="37.60" y1="808.30" x2="40.60" y2="808.30" stroke="#000" stroke-width="1.0"/>
<line x1="37.60" y1="787.95" x2="40.60" y2="787.95" stroke="#000" stroke-width="1.0"/>
<text x="355.2" y="892.3" font-size="11.5">0</text>
<text x="355.2" y="871.95" font-size="11.5">200</text>
<line x1="350.50" y1="869.35" x2="347.50" y2="869.35" stroke="#000" stroke-width="1.0"/>
<text x="355.2" y="851.6" font-size="11.5">400</text>
<line x1="350.50" y1="849.00" x2="347.50" y2="849.00" stroke="#000" stroke-width="1.0"/>
<text x="355.2" y="831.25" font-size="11.5">600</text>
<line x1="350.50" y1="828.65" x2="347.50" y2="828.65" stroke="#000" stroke-width="1.0"/>
<text x="355.2" y="810.9" font-size="11.5">800</text>
<line x1="350.50" y1="808.30" x2="347.50" y2="808.30" stroke="#000" stroke-width="1.0"/>
<text x="355.2" y="790.55" font-size="11.5">1000</text>
<line x1="350.50" y1="787.95" x2="347.50" y2="787.95" stroke="#000" stroke-width="1.0"/>
<text x="355.2" y="770.2" font-size="11.5">1200</text>
<rect x="44.50" y="803.00" width="8.80" height="86.70" fill="#fff" stroke="#000" stroke-width="1.0"/>
<line x1="48.90" y1="794.50" x2="48.90" y2="811.80" stroke="#333" stroke-width="0.9"/>
<line x1="47.10" y1="794.50" x2="50.70" y2="794.50" stroke="#333" stroke-width="0.9"/>
<line x1="47.10" y1="811.80" x2="50.70" y2="811.80" stroke="#333" stroke-width="0.9"/>
<rect x="53.30" y="848.00" width="9.20" height="41.70" fill="#888" stroke="#000" stroke-width="1.0"/>
<line x1="57.90" y1="846.30" x2="57.90" y2="849.80" stroke="#333" stroke-width="0.9"/>
<line x1="56.10" y1="846.30" x2="59.70" y2="846.30" stroke="#333" stroke-width="0.9"/>
<line x1="56.10" y1="849.80" x2="59.70" y2="849.80" stroke="#333" stroke-width="0.9"/>
<rect x="75.00" y="886.70" width="9.30" height="3.00" fill="#fff" stroke="#000" stroke-width="1.0"/>
<line x1="79.65" y1="885.00" x2="79.65" y2="888.20" stroke="#333" stroke-width="0.9"/>
<line x1="77.85" y1="885.00" x2="81.45" y2="885.00" stroke="#333" stroke-width="0.9"/>
<line x1="77.85" y1="888.20" x2="81.45" y2="888.20" stroke="#333" stroke-width="0.9"/>
<rect x="84.30" y="889.00" width="9.20" height="0.70" fill="#888" stroke="#000" stroke-width="1.0"/>
<rect x="106.50" y="863.50" width="8.70" height="26.20" fill="#fff" stroke="#000" stroke-width="1.0"/>
<line x1="110.85" y1="856.50" x2="110.85" y2="870.50" stroke="#333" stroke-width="0.9"/>
<line x1="109.05" y1="856.50" x2="112.65" y2="856.50" stroke="#333" stroke-width="0.9"/>
<line x1="109.05" y1="870.50" x2="112.65" y2="870.50" stroke="#333" stroke-width="0.9"/>
<rect x="115.20" y="861.00" width="9.00" height="28.70" fill="#888" stroke="#000" stroke-width="1.0"/>
<line x1="119.70" y1="860.00" x2="119.70" y2="862.00" stroke="#333" stroke-width="0.9"/>
<line x1="117.90" y1="860.00" x2="121.50" y2="860.00" stroke="#333" stroke-width="0.9"/>
<line x1="117.90" y1="862.00" x2="121.50" y2="862.00" stroke="#333" stroke-width="0.9"/>
<rect x="137.00" y="887.60" width="9.30" height="2.10" fill="#fff" stroke="#000" stroke-width="1.0"/>
<rect x="146.30" y="888.90" width="9.20" height="0.80" fill="#888" stroke="#000" stroke-width="1.0"/>
<rect x="168.30" y="846.50" width="8.90" height="43.20" fill="#fff" stroke="#000" stroke-width="1.0"/>
<line x1="172.75" y1="841.80" x2="172.75" y2="851.50" stroke="#333" stroke-width="0.9"/>
<line x1="170.95" y1="841.80" x2="174.55" y2="841.80" stroke="#333" stroke-width="0.9"/>
<line x1="170.95" y1="851.50" x2="174.55" y2="851.50" stroke="#333" stroke-width="0.9"/>
<rect x="177.20" y="788.50" width="9.10" height="101.20" fill="#888" stroke="#000" stroke-width="1.0"/>
<line x1="181.75" y1="775.50" x2="181.75" y2="800.30" stroke="#333" stroke-width="0.9"/>
<line x1="179.95" y1="775.50" x2="183.55" y2="775.50" stroke="#333" stroke-width="0.9"/>
<line x1="179.95" y1="800.30" x2="183.55" y2="800.30" stroke="#333" stroke-width="0.9"/>
<line x1="199.00" y1="889.10" x2="208.00" y2="889.10" stroke="#000" stroke-width="1.0"/>
<line x1="208.00" y1="889.10" x2="217.00" y2="889.10" stroke="#000" stroke-width="1.0"/>
<rect x="230.30" y="881.00" width="8.90" height="8.70" fill="#fff" stroke="#000" stroke-width="1.0"/>
<line x1="234.75" y1="879.50" x2="234.75" y2="882.50" stroke="#333" stroke-width="0.9"/>
<line x1="232.95" y1="879.50" x2="236.55" y2="879.50" stroke="#333" stroke-width="0.9"/>
<line x1="232.95" y1="882.50" x2="236.55" y2="882.50" stroke="#333" stroke-width="0.9"/>
<rect x="239.20" y="866.00" width="8.60" height="23.70" fill="#888" stroke="#000" stroke-width="1.0"/>
<line x1="243.50" y1="863.00" x2="243.50" y2="869.00" stroke="#333" stroke-width="0.9"/>
<line x1="241.70" y1="863.00" x2="245.30" y2="863.00" stroke="#333" stroke-width="0.9"/>
<line x1="241.70" y1="869.00" x2="245.30" y2="869.00" stroke="#333" stroke-width="0.9"/>
<rect x="261.00" y="883.00" width="9.00" height="6.70" fill="#fff" stroke="#000" stroke-width="1.0"/>
<line x1="265.50" y1="881.50" x2="265.50" y2="884.50" stroke="#333" stroke-width="0.9"/>
<line x1="263.70" y1="881.50" x2="267.30" y2="881.50" stroke="#333" stroke-width="0.9"/>
<line x1="263.70" y1="884.50" x2="267.30" y2="884.50" stroke="#333" stroke-width="0.9"/>
<rect x="270.00" y="881.50" width="9.00" height="8.20" fill="#888" stroke="#000" stroke-width="1.0"/>
<line x1="274.50" y1="879.70" x2="274.50" y2="883.30" stroke="#333" stroke-width="0.9"/>
<line x1="272.70" y1="879.70" x2="276.30" y2="879.70" stroke="#333" stroke-width="0.9"/>
<line x1="272.70" y1="883.30" x2="276.30" y2="883.30" stroke="#333" stroke-width="0.9"/>
<rect x="295.00" y="889.00" width="8.80" height="0.70" fill="#fff" stroke="#000" stroke-width="1.0"/>
<rect x="303.80" y="794.80" width="9.20" height="94.90" fill="#888" stroke="#000" stroke-width="1.0"/>
<line x1="308.40" y1="779.80" x2="308.40" y2="809.80" stroke="#333" stroke-width="0.9"/>
<line x1="306.60" y1="779.80" x2="310.20" y2="779.80" stroke="#333" stroke-width="0.9"/>
<line x1="306.60" y1="809.80" x2="310.20" y2="809.80" stroke="#333" stroke-width="0.9"/>
<rect x="325.50" y="889.00" width="9.00" height="0.70" fill="#fff" stroke="#000" stroke-width="1.0"/>
<rect x="334.50" y="874.30" width="9.30" height="15.40" fill="#888" stroke="#000" stroke-width="1.0"/>
<line x1="339.15" y1="869.80" x2="339.15" y2="879.00" stroke="#333" stroke-width="0.9"/>
<line x1="337.35" y1="869.80" x2="340.95" y2="869.80" stroke="#333" stroke-width="0.9"/>
<line x1="337.35" y1="879.00" x2="340.95" y2="879.00" stroke="#333" stroke-width="0.9"/>
<rect x="37.60" y="767.60" width="247.70" height="122.10" fill="none" stroke="#000" stroke-width="1.55"/>
<rect x="288.30" y="767.60" width="62.20" height="122.10" fill="none" stroke="#000" stroke-width="1.55"/>
<rect x="245.80" y="773.00" width="9.40" height="9.20" fill="#fff" stroke="#000" stroke-width="1.0"/>
<rect x="245.80" y="788.00" width="9.40" height="9.20" fill="#888" stroke="#000" stroke-width="1.0"/>
<text x="261" y="782.3" font-size="12.8">0 h</text>
<text x="261" y="797.8" font-size="12.8">1 h</text>
<text x="35.8" y="902.1" font-size="12.8">shoot</text>
<text x="71.3" y="902.1" font-size="12.8">root</text>
<text x="98.3" y="902.1" font-size="12.8">shoot</text>
<text x="134.5" y="902.1" font-size="12.8">root</text>
<text x="160.8" y="902.1" font-size="12.8">shoot</text>
<text x="195.3" y="902.1" font-size="12.8">root</text>
<text x="222.3" y="902.1" font-size="12.8">shoot</text>
<text x="258.5" y="902.1" font-size="12.8">root</text>
<text x="287.5" y="902.1" font-size="12.8">shoot</text>
<text x="323.8" y="902.1" font-size="12.8">root</text>
<line x1="35.50" y1="906.10" x2="91.00" y2="906.10" stroke="#000" stroke-width="1.2"/>
<line x1="98.30" y1="906.10" x2="155.80" y2="906.10" stroke="#000" stroke-width="1.2"/>
<line x1="160.00" y1="906.10" x2="217.80" y2="906.10" stroke="#000" stroke-width="1.2"/>
<line x1="222.30" y1="906.10" x2="280.30" y2="906.10" stroke="#000" stroke-width="1.2"/>
<line x1="286.50" y1="906.10" x2="345.00" y2="906.10" stroke="#000" stroke-width="1.2"/>
<text x="64.4" y="919.8" font-size="12.8" text-anchor="middle" font-style="italic">HsfA1a</text>
<text x="127.4" y="919.8" font-size="12.8" text-anchor="middle" font-style="italic">HsfA1b</text>
<text x="189.6" y="919.8" font-size="12.8" text-anchor="middle" font-style="italic">HsfA1d</text>
<text x="251.3" y="919.8" font-size="12.8" text-anchor="middle" font-style="italic">HsfA1e</text>
<text x="317.5" y="919.8" font-size="12.8" text-anchor="middle" font-style="italic">DREB2A</text>
</svg>
</body></html>
